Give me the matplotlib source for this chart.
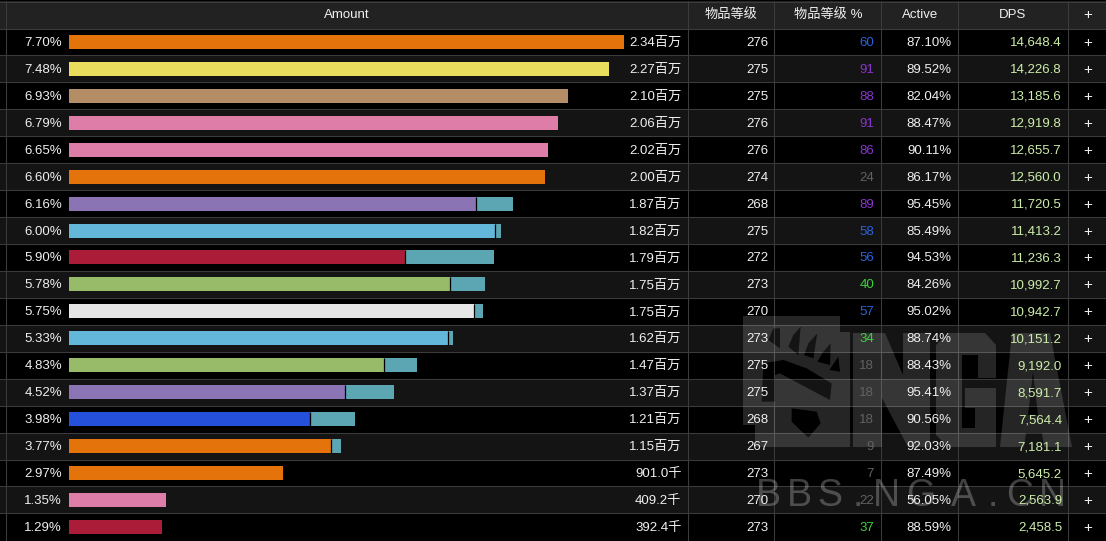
import matplotlib
matplotlib.use("Agg")
import matplotlib.pyplot as plt
import numpy as np
from matplotlib.patches import PathPatch, Rectangle
from matplotlib.path import Path

plt.rcParams['font.family'] = ['Liberation Sans', 'Noto Sans CJK SC']

W, H = 1106, 541

# Data, top to bottom
percent = ["7.70%", "7.48%", "6.93%", "6.79%", "6.65%", "6.60%", "6.16%", "6.00%", "5.90%", "5.78%",
           "5.75%", "5.33%", "4.83%", "4.52%", "3.98%", "3.77%", "2.97%", "1.35%", "1.29%"]
amount_main = [2.34, 2.275, 2.105, 2.06, 2.02, 2.008, 1.716, 1.798, 1.417, 1.606,
               1.707, 1.598, 1.328, 1.164, 1.016, 1.105, 0.901, 0.409, 0.392]
amount_extra = [0, 0, 0, 0, 0, 0, 0.156, 0.023, 0.375, 0.148,
                0.038, 0.021, 0.139, 0.207, 0.190, 0.042, 0, 0, 0]
amount_labels = ["2.34百万", "2.27百万", "2.10百万", "2.06百万", "2.02百万", "2.00百万", "1.87百万",
                 "1.82百万", "1.79百万", "1.75百万", "1.75百万", "1.62百万", "1.47百万", "1.37百万",
                 "1.21百万", "1.15百万", "901.0千", "409.2千", "392.4千"]
bar_colors = ["#e5730c", "#e8dd5c", "#b48c66", "#de7da8", "#de7da8", "#e5730c", "#8a74b4",
              "#62b7da", "#ab1c38", "#97bb68", "#e6e6e6", "#62b7da", "#97bb68", "#8a74b4",
              "#2450dc", "#e5730c", "#e5730c", "#de7da8", "#ab1c38"]
ilvl = [276, 275, 275, 276, 276, 274, 268, 275, 272, 273, 270, 273, 275, 275, 268, 267, 273, 270, 273]
parse = [60, 91, 88, 91, 86, 24, 89, 58, 56, 40, 57, 34, 18, 18, 18, 9, 7, 22, 37]
active = ["87.10%", "89.52%", "82.04%", "88.47%", "90.11%", "86.17%", "95.45%", "85.49%", "94.53%", "84.26%",
          "95.02%", "88.74%", "88.43%", "95.41%", "90.56%", "92.03%", "87.49%", "56.05%", "88.59%"]
dps = ["14,648.4", "14,226.8", "13,185.6", "12,919.8", "12,655.7", "12,560.0", "11,720.5", "11,413.2",
       "11,236.3", "10,992.7", "10,942.7", "10,151.2", "9,192.0", "8,591.7", "7,564.4", "7,181.1",
       "5,645.2", "2,563.9", "2,458.5"]

headers = ["Amount", "物品等级", "物品等级 %", "Active", "DPS", "+"]
header_x = [347, 731, 828, 920, 1013, 1088]
col_lines = [6, 688, 774, 881, 958, 1068]

# Layout
ROW_TOP = 28.5
ROW_H = 26.94
PX_PER_M = 237.2
TEXT_COLOR = "#f0f0f0"
DPS_COLOR = "#cdeeaa"
LINE_COLOR = "#3c3c3c"
FS = 9.5
TEXT_DY = 1


def row_y(i):
    return ROW_TOP + (i + 0.5) * ROW_H + TEXT_DY


def parse_color(v):
    if v >= 75:
        return "#8a35d0"
    if v >= 50:
        return "#2a62dc"
    if v >= 25:
        return "#3ad43a"
    return "#626262"


fig = plt.figure(figsize=(W / 100, H / 100), dpi=100, facecolor="black")

# Table background, pixel coordinates
ax = fig.add_axes([0, 0, 1, 1])
ax.set_xlim(0, W)
ax.set_ylim(H, 0)
ax.axis("off")

ax.add_patch(Rectangle((0, 1), W, ROW_TOP - 1, color="#222222", lw=0, zorder=0))
for i in range(len(percent)):
    c = "#000000" if i % 2 == 0 else "#141414"
    ax.add_patch(Rectangle((0, ROW_TOP + i * ROW_H), W, ROW_H, color=c, lw=0, zorder=0))
    ax.axhline(ROW_TOP + i * ROW_H, color=LINE_COLOR, lw=0.75, zorder=1)
ax.axhline(1.5, color=LINE_COLOR, lw=0.75, zorder=1)
ax.vlines(col_lines, 1, H, color=LINE_COLOR, lw=0.75, zorder=1)


# Watermark logo: first polygon of each group is the outline, the rest are holes
def compound(polys):
    verts, codes = [], []
    for k, p in enumerate(polys):
        p = np.array(p, dtype=float)
        area = np.sum(p[:, 0] * np.roll(p[:, 1], -1) - np.roll(p[:, 0], -1) * p[:, 1])
        if (area > 0) != (k == 0):
            p = p[::-1]
        verts.extend(p.tolist() + [p[0].tolist()])
        codes.extend([Path.MOVETO] + [Path.LINETO] * (len(p) - 1) + [Path.CLOSEPOLY])
    return verts, codes


def zoom4(pts):
    return [(730 + x / 3, 305 + y / 3) for x, y in pts]


logo = [
    [(743, 316), (840, 316), (840, 332), (850, 332), (850, 447), (755, 447), (755, 425), (743, 425)],
    zoom4([(130, 70), (150, 70), (150, 130), (115, 105)]),
    zoom4([(212, 65), (205, 150), (175, 125), (190, 90)]),
    zoom4([(262, 85), (250, 160), (222, 150), (235, 115)]),
    zoom4([(302, 115), (300, 180), (262, 170), (280, 140)]),
    zoom4([(325, 155), (330, 200), (298, 195)]),
    zoom4([(100, 175), (160, 165), (230, 190), (305, 235), (300, 285), (215, 240), (150, 205),
           (135, 210), (135, 290), (95, 290)]),
    zoom4([(185, 310), (260, 320), (272, 355), (235, 398), (185, 350)]),
]
letter_n = [[(853, 333), (885, 333), (903, 375), (903, 333), (930, 333), (930, 447),
             (908, 447), (882, 398), (882, 447), (853, 447)]]
letter_g = [[(948, 333), (985, 333), (996, 345), (996, 378), (978, 378), (978, 355), (962, 355),
             (962, 428), (975, 428), (975, 408), (965, 408), (965, 388), (996, 388), (996, 447),
             (948, 447), (936, 435), (936, 345)]]
letter_a = [[(1012, 333), (1050, 333), (1072, 447), (1044, 447), (1042, 433), (1026, 433),
             (1024, 447), (1000, 447)],
            [(1033, 372), (1038, 415), (1028, 415)]]
verts, codes = [], []
for group in (logo, letter_n, letter_g, letter_a):
    v, c = compound(group)
    verts += v
    codes += c
ax.add_patch(PathPatch(Path(verts, codes), facecolor="white", edgecolor="none", alpha=0.15, zorder=2))

site_chars = list("BBS.NGA.CN")
site_x = [768, 799, 830, 858, 886, 921, 963, 993, 1020, 1052]
for ch, x in zip(site_chars, site_x):
    ax.text(x, 496, ch, color="white", alpha=0.25, fontsize=27, ha="center", va="center", zorder=2)

# Header
for label, x in zip(headers, header_x):
    fs = FS + 1.5 if label == "+" else FS
    ax.text(x, 14.5, label, color=TEXT_COLOR, fontsize=fs, ha="center", va="center", zorder=3)

# Table cells
for i in range(len(percent)):
    y = row_y(i)
    ax.text(62, y, percent[i], color=TEXT_COLOR, fontsize=FS, ha="right", va="center", zorder=3)
    ax.text(681.5, y, amount_labels[i], color=TEXT_COLOR, fontsize=FS, ha="right", va="center", zorder=3)
    ax.text(768, y, str(ilvl[i]), color=TEXT_COLOR, fontsize=FS, ha="right", va="center", zorder=3)
    ax.text(874, y, str(parse[i]), color=parse_color(parse[i]), fontsize=FS, ha="right", va="center", zorder=3)
    ax.text(951.5, y, active[i], color=TEXT_COLOR, fontsize=FS, ha="right", va="center", zorder=3)
    ax.text(1062, y, dps[i], color=DPS_COLOR, fontsize=FS, ha="right", va="center", zorder=3)
    ax.text(1088, y, "+", color=TEXT_COLOR, fontsize=FS + 1.5, ha="center", va="center", zorder=3)

# Bars, on their own axes scaled in millions
n = len(percent)
bar_left, bar_right = 69, 681
ax_bars = fig.add_axes([bar_left / W, 1 - (ROW_TOP + n * ROW_H) / H,
                        (bar_right - bar_left) / W, n * ROW_H / H])
ax_bars.patch.set_alpha(0)
ax_bars.axis("off")
ypos = np.arange(n)
ax_bars.barh(ypos, amount_main, height=14 / ROW_H, color=bar_colors, lw=0)
ax_bars.barh(ypos, amount_extra, left=amount_main, height=14 / ROW_H, color="#5ba6b2", lw=0)
for i in range(n):
    if amount_extra[i] > 0:
        ax_bars.plot([amount_main[i]] * 2, [i - 7 / ROW_H, i + 7 / ROW_H], color="black", lw=0.9,
                     solid_capstyle="butt")
ax_bars.set_xlim(0, (bar_right - bar_left) / PX_PER_M)
ax_bars.set_ylim(n - 0.5, -0.5)

fig.savefig("out.png", dpi=100, facecolor="black")
